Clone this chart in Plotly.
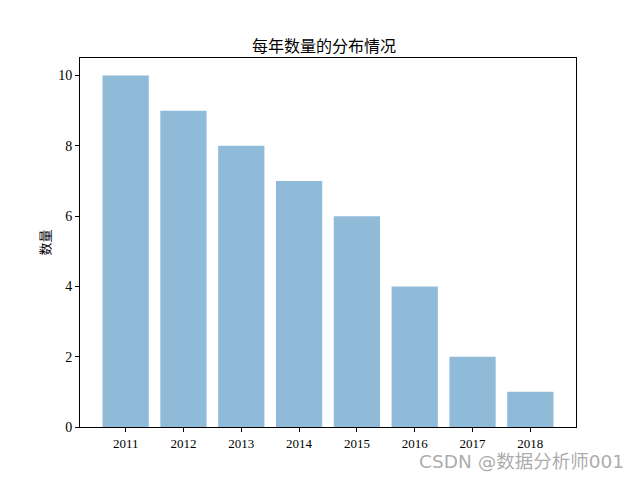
import plotly.graph_objects as go

years = ["2011", "2012", "2013", "2014", "2015", "2016", "2017", "2018"]
counts = [10, 9, 8, 7, 6, 4, 2, 1]
y_ticks = [0, 2, 4, 6, 8, 10]

FONT = "Liberation Serif, Noto Sans CJK SC, serif"

fig = go.Figure(go.Bar(
    x=list(range(len(years))),
    y=counts,
    width=0.8,
    marker=dict(color="rgba(31,119,180,0.5)", line=dict(width=0)),
))

# page body has an 8px margin, so the figure is a bit smaller
fig.update_layout(
    width=632, height=472,
    margin=dict(l=72, r=64, t=50, b=53),
    paper_bgcolor="white", plot_bgcolor="white",
    font=dict(family=FONT, size=13, color="black"),
    title=dict(text="每年数量的分布情况", x=0.5, xanchor="center", y=1, yref="paper",
               yanchor="bottom", pad=dict(b=6),
               font=dict(size=16, family="Noto Sans CJK SC")),
    showlegend=False,
    xaxis=dict(
        range=[-0.79, 7.79], tickmode="array",
        tickvals=list(range(len(years))), ticktext=years,
        showgrid=False, zeroline=False,
        showline=True, linecolor="black", linewidth=1, mirror=True,
        ticks="outside", ticklen=4, tickcolor="black",
        tickfont=dict(size=13),
    ),
    yaxis=dict(
        range=[0, 10.5], tickmode="array", tickvals=y_ticks,
        showgrid=False, zeroline=False,
        showline=True, linecolor="black", linewidth=1, mirror=True,
        ticks="outside", ticklen=4, tickcolor="black",
        tickfont=dict(size=14),
        title=dict(text="数量", font=dict(size=13, family="Noto Sans CJK SC"), standoff=4),
    ),
)

fig.add_annotation(
    text="CSDN @数据分析师001", xref="paper", yref="paper",
    x=1.0, y=0, xanchor="right", yanchor="middle", showarrow=False,
    xshift=50, yshift=-34,
    font=dict(size=18.5, color="rgba(150,150,150,0.8)", family="DejaVu Sans, Noto Sans CJK SC"),
)

fig.write_html("out.html")
